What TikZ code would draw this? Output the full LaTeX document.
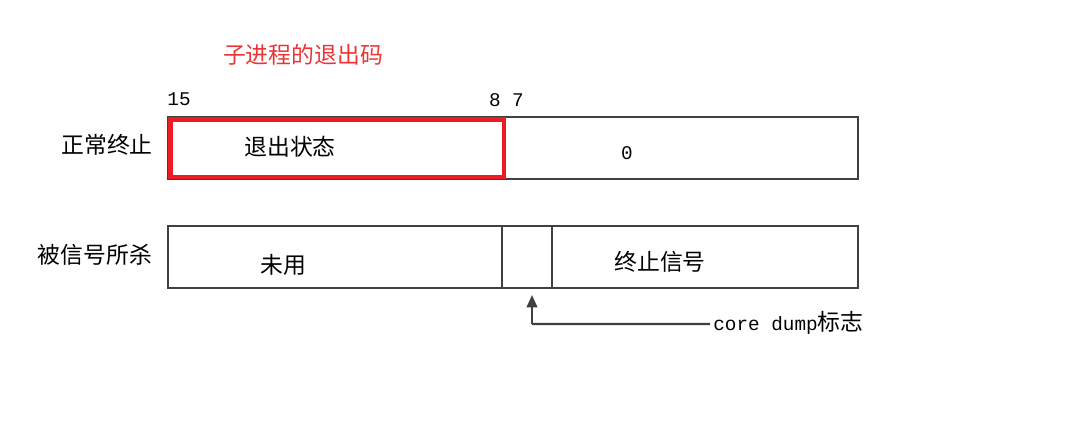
\documentclass[tikz,border=0pt]{standalone}
\usepackage{fontspec}
\usepackage{tikz}
\usetikzlibrary{arrows.meta, calc}
\usepackage{xcolor}
\newfontfamily\cjk{Noto Sans CJK SC}
\setmonofont{Liberation Mono}
\definecolor{rossotitolo}{RGB}{236,52,52}
\definecolor{rossobox}{RGB}{237,28,36}
\newcommand{\testo}{\fontsize{13}{15}\selectfont\cjk}
\newcommand{\cifre}{\fontsize{11}{13}\selectfont\ttfamily}
\tikzset{
  cella/.style = {draw=black!75, line width=1.3pt, inner sep=0pt, outer sep=0pt, anchor=north west, minimum height=\alt cm},
  etichetta/.style = {inner sep=0pt, font=\testo},
  bit/.style = {inner sep=0pt, font=\cifre}
}

\begin{document}
\begin{tikzpicture}
    % Parametri
    \pgfmathsetmacro{\xsx}{3.36}
    \pgfmathsetmacro{\alt}{1.24}
    \pgfmathsetmacro{\yuno}{-2.34}
    \pgfmathsetmacro{\ydue}{-4.52}

    \useasboundingbox (0,0) rectangle (21.54,-8.46);

    % Titolo
    \node[etichetta, text=rossotitolo] (titolo) at (6.06,-1.10) {子进程的退出码};

    % Bit
    \node[bit] (quindici) at (3.58,-1.98) {15};
    \node[bit] (otto) at (9.90,-2.00) {8};
    \node[bit] (sette) at (10.36,-2.00) {7};

    % Riga 1: terminazione normale
    \node[etichetta] (normale) at (2.14,-2.90) {正常终止};
    \node[cella, minimum width=6.70cm] (uscita) at (\xsx,\yuno) {};
    \node[cella, minimum width=7.10cm] (zero) at (10.06,\yuno) {};
    \node[etichetta] (stato) at (5.80,-2.94) {退出状态};
    \node[bit] (valzero) at (12.54,-3.06) {0};
    % riquadro rosso
    \node[draw=rossobox, line width=2.8pt, inner sep=0pt, outer sep=0pt, anchor=north west,
          minimum width=6.67cm, minimum height=1.15cm] (codice) at (3.41,-2.39) {};

    % Riga 2: ucciso da segnale
    \node[etichetta] (ucciso) at (1.90,-5.10) {被信号所杀};
    \node[cella, minimum width=6.68cm] (inutile) at (\xsx,\ydue) {};
    \node[cella, minimum width=1.00cm] (core) at (10.04,\ydue) {};
    \node[cella, minimum width=6.12cm] (segnale) at (11.04,\ydue) {};
    \node[etichetta] (nonusato) at (5.66,-5.30) {未用};
    \node[etichetta] (numsegnale) at (13.20,-5.24) {终止信号};

    % Flag core dump
    \node[inner sep=0pt, anchor=west] (dump) at (14.26,-6.46) {\cifre core dump\testo 标志};
    \coordinate (angolo) at (10.64,-6.48);
    \draw[black!75, line width=1.3pt, -{Triangle[length=7pt, width=6pt]}, shorten >=4pt]
        (angolo) -- (angolo |- core.south);
    \draw[black!75, line width=1.3pt] (angolo) -- ($(dump.west)+(-0.06,-0.02)$);
\end{tikzpicture}
\end{document}
